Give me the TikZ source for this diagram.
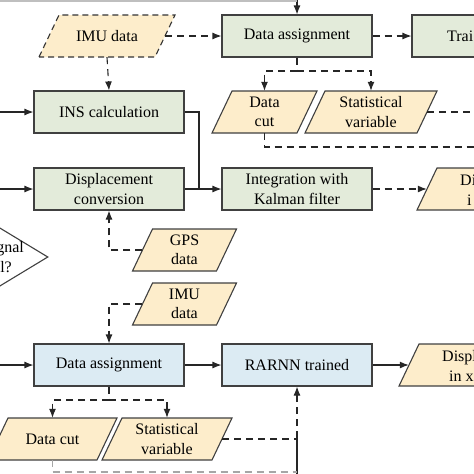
\documentclass[tikz,border=0pt]{standalone}
\usepackage{fontspec}
\setmainfont{Liberation Serif}
\usetikzlibrary{positioning}
\usetikzlibrary{arrows.meta,shapes}
\usetikzlibrary{calc}
\definecolor{stepgreen}{RGB}{227,235,218}
\definecolor{stepblue}{RGB}{220,235,243}
\definecolor{datayellow}{RGB}{253,237,203}
\definecolor{edgegray}{RGB}{64,64,64}
\tikzstyle{procbox}=[rectangle,draw=edgegray,fill=stepgreen,line width=1.1pt,minimum width=150pt,minimum height=42pt,inner sep=0pt,align=center,font=\fontsize{16pt}{19.5pt}\selectfont]
\tikzstyle{nnbox}=[procbox,fill=stepblue]
\tikzstyle{ioshape}=[draw=edgegray,fill=datayellow,line width=1.1pt,line join=miter]
\tikzstyle{iotext}=[rectangle,minimum height=42pt,inner sep=0pt,align=center,font=\fontsize{16pt}{19.5pt}\selectfont]
\tikzstyle{decision}=[diamond,draw=edgegray,fill=white,line width=1.1pt,minimum width=122pt,minimum height=74pt,inner sep=0pt]
\tikzstyle{cuttext}=[inner sep=0pt,font=\fontsize{16pt}{19.5pt}\selectfont]
\tikzstyle{link}=[line width=1.1pt,black!85]
\tikzstyle{flow}=[link,-{Latex[length=9pt,width=7pt]}]
\tikzstyle{dataline}=[link,dash pattern=on 7pt off 5pt]
\tikzstyle{dataflow}=[flow,dash pattern=on 7pt off 5pt]

\begin{document}
\begin{tikzpicture}[x=1pt,y=-1pt]
\useasboundingbox (0,0) rectangle (474,474);
\clip (0,0) rectangle (474,474);

%Processing boxes
    \foreach \pos/\name/\label in {{(297,36)/asgA/Data assignment}, {(109,112)/ins/INS calculation}, {(109,189)/disp/Displacement\\conversion}, {(297,189)/kal/Integration with\\Kalman filter}, {(487,36)/train/}}
        \node[procbox] (\name) at \pos {\label};
    \foreach \pos/\name/\label in {{(109,365)/asgB/Data assignment}, {(297,365)/rarnn/RARNN trained}}
        \node[nnbox] (\name) at \pos {\label};

%Data boxes (slant 20, height 42)
    \foreach \px/\py/\name/\sd/\label in {264.5/112/cutA/85/Data\\cut, 371/112/statA/112/Statistical\\variable, 184.5/250/gps/84/GPS\\data, 184.5/304/imuB/84/IMU\\data, 487/189/disA/120/, 52.5/439/cutB/109/Data cut, 167/439/statB/110/Statistical\\variable, 469/365/displ/120/}
    {
        \path[ioshape] (\px-\sd/2-10,\py+21) -- (\px-\sd/2+10,\py-21) -- (\px+\sd/2+10,\py-21) -- (\px+\sd/2-10,\py+21) -- cycle;
        \node[iotext,minimum width=\sd pt] (\name) at (\px,\py) {\label};
    }
    \path[ioshape,draw=black!80,dash pattern=on 6pt off 4pt] (107-58-10,36+21) -- (107-58+10,36-21) -- (107+58+10,36-21) -- (107+58-10,36+21) -- cycle;
    \node[iotext,minimum width=116pt] (imuA) at (107,36) {IMU data};
    \node[decision] (gpsok) at (-13,257) {};

%Cut texts at the border
    \foreach \pos/\name/\anc/\label in {{(447,41)/traintxt/base west/Trai}, {(460,185)/disAtxt/base west/Di}, {(467,205)/disAtxtb/base west/i}, {(442,361)/displtxt/base west/Displ}, {(449,381)/displtxtb/base west/in x}, {(24,252)/oktxt/base east/gnal}, {(12,272)/oktxtb/base east/l?}}
        \node[cuttext,anchor=\anc] (\name) at \pos {\label};

%Free ends
    \foreach \px/\py/\name in {0/112/inA, 0/189/inB, 0/365/inC, 0/1/topL, 297/1/topR, 297/0/topIn, 199/189/join, 297/71/splitA, 109/400/splitB, 474/112/edgeA, 474/147/edgeB, 297/474/rin, 297/472/cutend}
        \coordinate (\name) at (\px,\py);

  \foreach \source/ \dest in {inA/ins, inB/disp, inC/asgB, disp/kal, asgB/rarnn, rarnn/displ, topIn/asgA}
          \draw[flow] (\source) -- (\dest);
  \foreach \source/ \dest in {imuA/asgA, asgA/train, kal/disA, rin/rarnn}
          \draw[dataflow] (\source) -- (\dest);
  \draw[dataflow] (imuA.south) -- (ins.north);
  \draw[link] (ins.east) -| (join);
  \draw[link,black!25,line width=2pt] (topL) -- (topR);

  \draw[dataline] (asgA.south) -- (splitA);
  \draw[dataflow] (splitA) -| (cutA.north);
  \draw[dataflow] (splitA) -| (statA.north);
  \draw[dataline] (statA.east) -- (edgeA);
  \draw[dataline] (cutA.south) |- (edgeB);
  \draw[dataflow] (gps.west) -| (disp.south);
  \draw[dataflow] (imuB.west) -| (asgB.north);

  \draw[dataline] (asgB.south) -- (splitB);
  \draw[dataflow] (splitB) -| (cutB.north);
  \draw[dataflow] (splitB) -| (statB.north);
  \draw[dataline] (statB.east) -| (rin);
  \draw[dataline,black!35] (cutB.south) |- (cutend);

   \end{tikzpicture}
\end{document}
